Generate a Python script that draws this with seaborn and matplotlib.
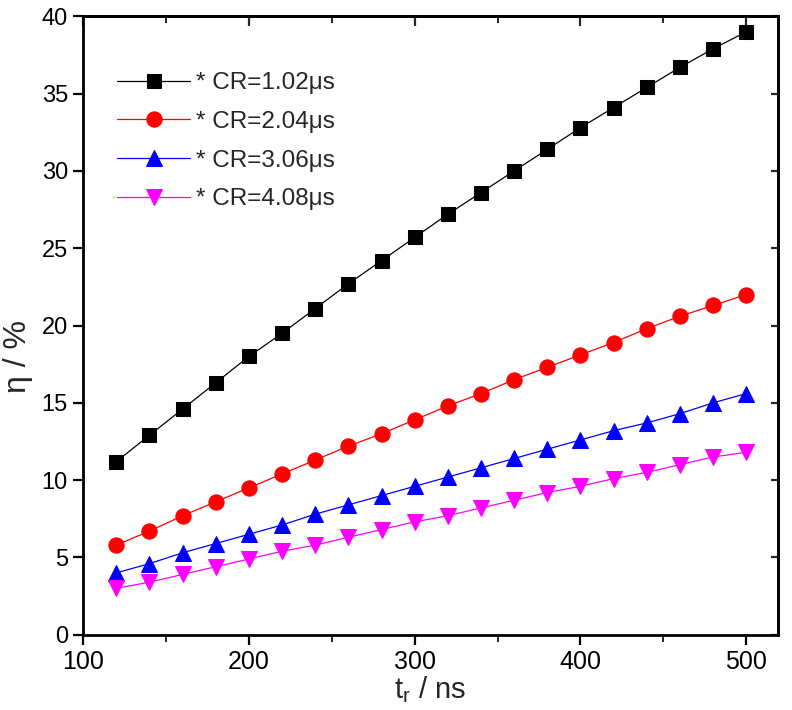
import matplotlib
matplotlib.use("Agg")
import matplotlib.pyplot as plt
import seaborn as sns
import pandas as pd
from matplotlib.ticker import MultipleLocator

tr = [120, 140, 160, 180, 200, 220, 240, 260, 280, 300,
      320, 340, 360, 380, 400, 420, 440, 460, 480, 500]
cr102 = [11.2, 12.9, 14.6, 16.3, 18.0, 19.5, 21.1, 22.7, 24.2, 25.7,
         27.2, 28.6, 30.0, 31.4, 32.8, 34.1, 35.4, 36.7, 37.9, 39.0]
cr204 = [5.8, 6.7, 7.7, 8.6, 9.5, 10.4, 11.3, 12.2, 13.0, 13.9,
         14.8, 15.6, 16.5, 17.3, 18.1, 18.9, 19.8, 20.6, 21.3, 22.0]
cr306 = [4.0, 4.6, 5.3, 5.9, 6.5, 7.1, 7.8, 8.4, 9.0, 9.6,
         10.2, 10.8, 11.4, 12.0, 12.6, 13.2, 13.7, 14.3, 15.0, 15.6]
cr408 = [3.0, 3.4, 3.9, 4.4, 4.9, 5.4, 5.8, 6.3, 6.8, 7.3,
         7.7, 8.2, 8.7, 9.2, 9.6, 10.1, 10.5, 11.0, 11.5, 11.8]
labels = ["* CR=1.02\u03bcs", "* CR=2.04\u03bcs",
          "* CR=3.06\u03bcs", "* CR=4.08\u03bcs"]
series = [cr102, cr204, cr306, cr408]
colors = ["#000000", "#ff0000", "#0000ff", "#ff00ff"]
markers = ["s", "o", "^", "v"]

sns.set_style("ticks")
plt.rcParams["font.family"] = ["Liberation Sans", "DejaVu Sans"]
plt.rcParams["mathtext.default"] = "regular"

fig = plt.figure(figsize=(7.92, 7.10), dpi=100)
ax = fig.add_axes([0.105, 0.106, 0.877, 0.871])

for vals, lab, c, m in zip(series, labels, colors, markers):
    df = pd.DataFrame({"tr": tr, "eta": vals})
    ms = 10 if m == "s" else 11
    if m in ("^", "v"):
        ms = 12
    sns.lineplot(data=df, x="tr", y="eta", ax=ax, color=c, marker=m,
                 markersize=ms, markeredgecolor=c, linewidth=0.9,
                 label=lab)

ax.set_xlim(100, 519)
ax.set_ylim(0, 40)
ax.xaxis.set_major_locator(MultipleLocator(100))
ax.xaxis.set_minor_locator(MultipleLocator(50))
ax.yaxis.set_major_locator(MultipleLocator(5))

for s in ax.spines.values():
    s.set_linewidth(2.0)
    s.set_color("black")
    s.set_visible(True)

ax.tick_params(axis="both", which="major", direction="out", length=7,
               width=1.6, colors="black")
ax.tick_params(axis="x", which="minor", direction="out", length=5, width=1.4)
ax.tick_params(axis="y", labelsize=17, pad=4)
ax.tick_params(axis="x", labelsize=18, pad=4)

# mirrored ticks on top/right (inward)
axt = ax.secondary_xaxis("top")
axt.xaxis.set_major_locator(MultipleLocator(100))
axt.xaxis.set_minor_locator(MultipleLocator(50))
axt.tick_params(axis="x", which="major", direction="in", length=7, width=1.6, labeltop=False)
axt.tick_params(axis="x", which="minor", direction="in", length=5, width=1.4)
axt.spines["top"].set_linewidth(2.0)
axr = ax.secondary_yaxis("right")
axr.yaxis.set_major_locator(MultipleLocator(5))
axr.tick_params(axis="y", which="major", direction="in", length=5, width=1.6, labelright=False)
axr.spines["right"].set_linewidth(2.0)

ax.set_xlabel("t$_{r}$ / ns", fontsize=21, labelpad=0)
ax.set_ylabel("\u03b7 / %", fontsize=23)
ax.yaxis.set_label_coords(-0.072, 0.45)

leg = ax.legend(loc="upper left", bbox_to_anchor=(0.035, 0.925), frameon=False,
                fontsize=17.5, handlelength=3.0, handletextpad=0.25,
                labelspacing=0.68, borderaxespad=0)

fig.savefig("out.png", dpi=100)
